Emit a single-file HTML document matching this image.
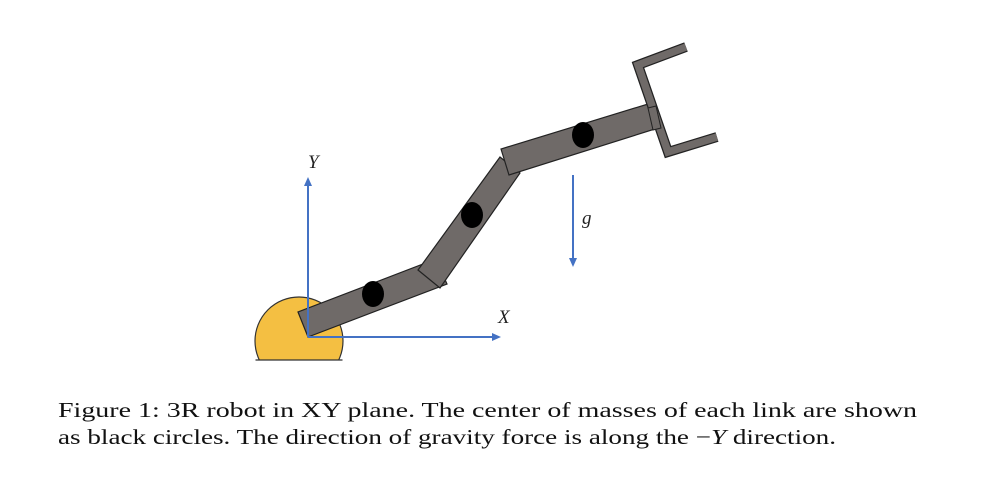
<!DOCTYPE html>
<html><head><meta charset="utf-8"><style>html,body{margin:0;padding:0;background:#fff;}svg{display:block}</style></head>
<body>
<svg width="982" height="488" viewBox="0 0 982 488" xmlns="http://www.w3.org/2000/svg">
<defs><clipPath id="c"><rect x="0" y="0" width="982" height="360"/></clipPath></defs>
<circle cx="299" cy="341" r="44" fill="#F4BF42" stroke="#333" stroke-width="1.2" clip-path="url(#c)"/>
<line x1="255.5" y1="360" x2="342.5" y2="360" stroke="#333" stroke-width="1.2"/>
<polygon points="298,312 308,337 447,284 436,259" fill="#6F6A68" stroke="#222" stroke-width="1.2"/>
<polygon points="418,270 440,288 520,173 500,157" fill="#6F6A68" stroke="#222" stroke-width="1.2"/>
<polygon points="501,149 509,175 655,129 648,104" fill="#6F6A68" stroke="#222" stroke-width="1.2"/>
<polyline points="686,47 638,65 668,152 717,137" fill="none" stroke="#222" stroke-width="10" stroke-linejoin="miter"/>
<polyline points="686,47 638,65 668,152 717,137" fill="none" stroke="#6F6A68" stroke-width="7.5" stroke-linejoin="miter"/>
<polygon points="648,108 656,106 661,128 653,130" fill="#6F6A68" stroke="#222" stroke-width="1"/>
<ellipse cx="373" cy="294" rx="11" ry="13" fill="#000"/>
<ellipse cx="472" cy="215" rx="11" ry="13" fill="#000"/>
<ellipse cx="583" cy="135" rx="11" ry="13" fill="#000"/>
<g stroke="#4472C4" stroke-width="2" fill="#4472C4">
<line x1="308" y1="337" x2="308" y2="184"/>
<line x1="308" y1="337" x2="494" y2="337"/>
<line x1="573" y1="175" x2="573" y2="260"/>
</g>
<polygon points="308,177 304,186 312,186" fill="#4472C4"/>
<polygon points="501,337 492,333 492,341" fill="#4472C4"/>
<polygon points="573,267 569,258 577,258" fill="#4472C4"/>
<g font-family="Liberation Serif, serif" font-style="italic" font-size="19" fill="#222">
<text x="308" y="168">Y</text>
<text x="498" y="323">X</text>
<text x="582" y="224">g</text>
</g>
<g font-family="Liberation Serif, serif" font-size="21.5" fill="#111">
<text x="58" y="417" textLength="859" lengthAdjust="spacingAndGlyphs">Figure 1:  3R robot in XY plane.  The center of masses of each link are shown</text>
<text x="58" y="444" textLength="778" lengthAdjust="spacingAndGlyphs">as black circles.  The direction of gravity force is along the −<tspan font-style="italic">Y</tspan> direction.</text>
</g>
</svg>
</body></html>
